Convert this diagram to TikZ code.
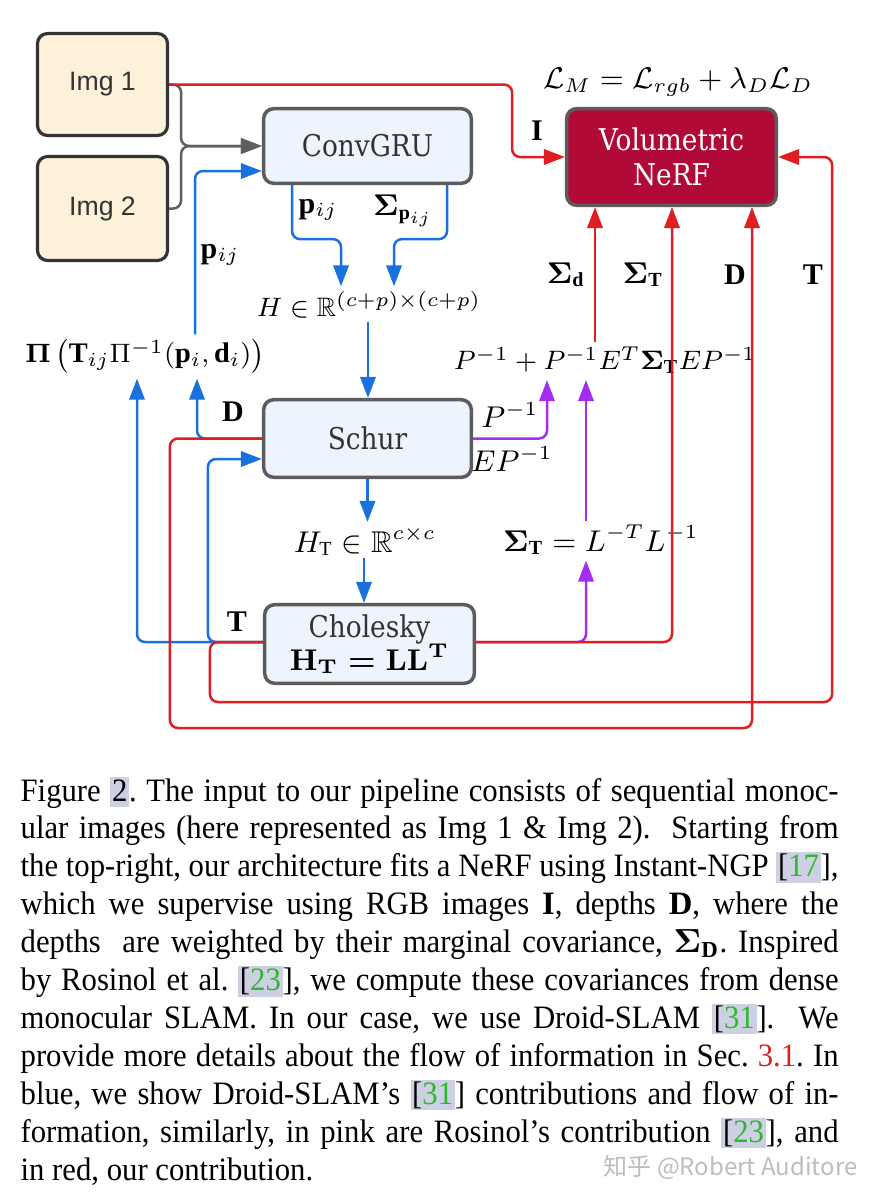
\documentclass[tikz,border=0pt]{standalone}
\usepackage{amsmath}
\usepackage{amssymb}
\usepackage{xcolor}
\usepackage{fontspec}
\setmainfont{Liberation Serif}
\newfontfamily\capfont[FakeStretch=0.94]{Liberation Serif}
\newfontfamily\boxfont[FakeStretch=0.88]{DejaVu Serif}
\newfontfamily\imgfont{Liberation Sans}
\newfontfamily\cjkfont{Noto Sans CJK SC}
\usetikzlibrary{arrows.meta, positioning, calc}

\definecolor{dsblue}{HTML}{1B70E0}
\definecolor{ourred}{HTML}{E01E22}
\definecolor{rospurple}{HTML}{A52CF2}
\definecolor{inputgray}{HTML}{5F5F5F}
\definecolor{boxgray}{HTML}{5C5C5C}
\definecolor{boxblue}{HTML}{EDF4FD}
\definecolor{imgcream}{HTML}{FDF1D9}
\definecolor{nerfred}{HTML}{B20A37}
\definecolor{textgray}{HTML}{333333}
\definecolor{hlgray}{HTML}{CDD0E3}
\definecolor{citegreen}{HTML}{2DB82D}
\definecolor{wmgray}{HTML}{BDBDBD}

\newcommand\hlbox[1]{{\setlength{\fboxsep}{0.5pt}\colorbox{hlgray}{\vphantom{[}#1}}}
\newcommand\citebox[1]{\hlbox{[\textcolor{citegreen}{#1}}]}

\tikzset{
  box/.style={draw=boxgray, line width=1.05pt, rounded corners=3pt, fill=boxblue,
    font=\boxfont\fontsize{9}{10.5}\selectfont, text=textgray, align=center, inner sep=0pt},
  nerfbox/.style={box, fill=nerfred, text=white},
  imgbox/.style={draw=textgray, line width=0.95pt, rounded corners=3pt, fill=imgcream,
    font=\imgfont\fontsize{8}{9}\selectfont, text=textgray, inner sep=0pt},
  flow/.style={line width=0.75pt, rounded corners=2.4pt, -{Triangle[length=6.3pt,width=4.6pt]}},
  lab/.style={inner sep=0pt, font=\fontsize{9}{10}\selectfont},
  formula/.style={inner sep=0pt, font=\fontsize{8.5}{10}\selectfont},
}

\begin{document}
\begin{tikzpicture}[x=0.3pt, y=-0.3pt]
\fill[white] (0,0) rectangle (882,1202);
\useasboundingbox (0,0) rectangle (882,1202);

% Boxes
\node[imgbox, minimum width=39pt, minimum height=30.6pt] (img1) at (102.5,84.5) {Img 1};
\node[imgbox, minimum width=39pt, minimum height=31.2pt] (img2) at (102.5,208.5) {Img 2};
\node[box, minimum width=62.3pt, minimum height=22.4pt] (gru) at (367.5,146) {ConvGRU};
\node[box, minimum width=62.3pt, minimum height=23.3pt] (schur) at (367.5,438.5) {Schur};
\node[box, minimum width=62.9pt, minimum height=23.6pt] (chol) at (369.5,644)
  {Cholesky\\[-0.5pt] \color{black}$\boldsymbol{\mathbf{H}_{\mathbf{T}}=\mathbf{L}\mathbf{L}^{\mathbf{T}}}$};
\node[nerfbox, minimum width=62.9pt, minimum height=29pt] (nerf) at (671.5,157) {Volumetric\\NeRF};

% Labels
\node[formula, font=\fontsize{9}{10}\selectfont] (loss) at (678,82) {$\mathcal{L}_M = \mathcal{L}_{rgb} + \lambda_D\mathcal{L}_D$};
\node[lab] (ilab) at (537,131) {$\mathbf{I}$};
\node[lab] (pin) at (220,255) {$\mathbf{p}_{ij}$};
\node[lab] (pout) at (318,210) {$\mathbf{p}_{ij}$};
\node[lab] (sout) at (403,211) {$\boldsymbol{\Sigma}_{\mathbf{p}_{ij}}$};
\node[formula, font=\fontsize{8}{10}\selectfont] (hfull) at (369,305) {$H \in \mathbb{R}^{(c+p)\times(c+p)}$};
\node[formula] (proj) at (145,356) {$\boldsymbol{\Pi}\left(\mathbf{T}_{ij}\Pi^{-1}(\mathbf{p}_i,\mathbf{d}_i)\right)$};
\node[lab] (dlab) at (233,412) {$\mathbf{D}$};
\node[lab] (tlab) at (237,622) {$\mathbf{T}$};
\node[lab] (hcam) at (365,541) {$H_{\mathrm{T}} \in \mathbb{R}^{c\times c}$};
\node[lab] (pinv) at (510,415) {$P^{-1}$};
\node[lab] (epinv) at (512,459) {$EP^{-1}$};
\node[lab] (sigt) at (601,540) {$\boldsymbol{\Sigma}_{\mathbf{T}} = L^{-T}L^{-1}$};
\node[formula] (pform) at (605,360) {$P^{-1} + P^{-1}E^T\boldsymbol{\Sigma}_{\mathbf{T}}EP^{-1}$};
\node[lab] (sdlab) at (566,275) {$\boldsymbol{\Sigma}_{\mathbf{d}}$};
\node[lab] (stlab) at (643,275) {$\boldsymbol{\Sigma}_{\mathbf{T}}$};
\node[lab] (dnlab) at (735,275) {$\mathbf{D}$};
\node[lab] (tnlab) at (813,275) {$\mathbf{T}$};

% Input images
\draw[flow, inputgray] (img1.east) -- ++(12,0) |- (gru.west);
\draw[flow, inputgray] (img2.east) -- ++(12,0) |- (gru.west);

% Droid-SLAM flow
\draw[flow, dsblue] ($(proj.north)+(50,-4)$) |- ($(gru.west)+(0,25)$);
\draw[flow, dsblue] ($(gru.south)+(-75.5,0)$) -- ++(0,54) -| ($(hfull.north)+(-28,-5)$);
\draw[flow, dsblue] ($(gru.south)+(79.5,0)$) -- ++(0,54) -| ($(hfull.north)+(25,-5)$);
\draw[flow, dsblue] ($(hfull.south)+(-1,3)$) -- ($(hfull.south |- schur.north)+(-1,0)$);
\draw[flow, dsblue] (schur.south) -- ($(schur.south |- hcam.north)+(0,-4)$);
\draw[flow, dsblue] ($(hcam.south)+(-1,2)$) -- ($(hcam.south |- chol.north)+(-1,0)$);
\draw[flow, dsblue] (schur.west) -| ($(proj.south)+(52,5)$);
\draw[flow, dsblue] ($(chol.west)+(0,-2)$) -| ($(proj.south)+(-8,5)$);
\draw[flow, dsblue] ($(chol.west)+(0,-2)$) -- ++(-55,0) |- ($(schur.west)+(0,20.5)$);

% Rosinol flow
\draw[flow, rospurple] (schur.east) -| ($(pform.south)+(-58,6)$);
\draw[flow, rospurple] ($(chol.east)+(0,-2)$) -| ($(sigt.south)+(-15,5)$);
\draw[flow, rospurple] ($(sigt.north)+(-15,-3)$) -- ($(pform.south)+(-19,6)$);

% Our flow
\draw[flow, ourred] (img1.east) -- ++(343,0) |- (nerf.west);
\draw[flow, ourred] ($(pform.north)+(-10,-4)$) -- ($(nerf.south)+(-76.5,0)$);
\draw[flow, ourred] ($(chol.east)+(0,-2)$) -| ($(nerf.south)+(0.5,0)$);
\draw[flow, ourred] (schur.west) -- ++(-92,0) -- ++(0,289.5) -| ($(nerf.south)+(80.5,0)$);
\draw[flow, ourred] ($(chol.west)+(0,-2)$) -- ++(-53,0) -- ++(0,60) -| ($(nerf.east)+(54,0)$) -- (nerf.east);

% Caption
\node[anchor=base west, inner sep=0pt, text width=245.4pt, align=justify, text=black,
  font=\capfont\fontsize{9.8}{11.37}\selectfont\frenchspacing] (caption) at (20,801)
  {Figure \hlbox{2}. The input to our pipeline consists of sequential monoc-\linebreak
  ular images (here represented as Img 1 \& Img 2).\ \ Starting from\linebreak
  the top-right, our architecture fits a NeRF using Instant-NGP \citebox{17},\linebreak
  which we supervise using RGB images $\mathbf{I}$, depths $\mathbf{D}$, where the\linebreak
  depths\ \ are weighted by their marginal covariance, $\boldsymbol{\Sigma}_{\mathbf{D}}$. Inspired\linebreak
  by Rosinol et al. \citebox{23}, we compute these covariances from dense\linebreak
  monocular SLAM. In our case, we use Droid-SLAM \citebox{31}.\ \ We\linebreak
  provide more details about the flow of information in Sec. \textcolor{ourred}{3.1}. In\linebreak
  blue, we show Droid-SLAM’s \citebox{31} contributions and flow of in-\linebreak
  formation, similarly, in pink are Rosinol’s contribution \citebox{23}, and\linebreak
  in red, our contribution.};
\node[anchor=base east, inner sep=0pt, text=wmgray, font=\cjkfont\fontsize{7.2}{8}\selectfont]
  (mark) at (858,1175) {知乎 @Robert Auditore};
\end{tikzpicture}
\end{document}
